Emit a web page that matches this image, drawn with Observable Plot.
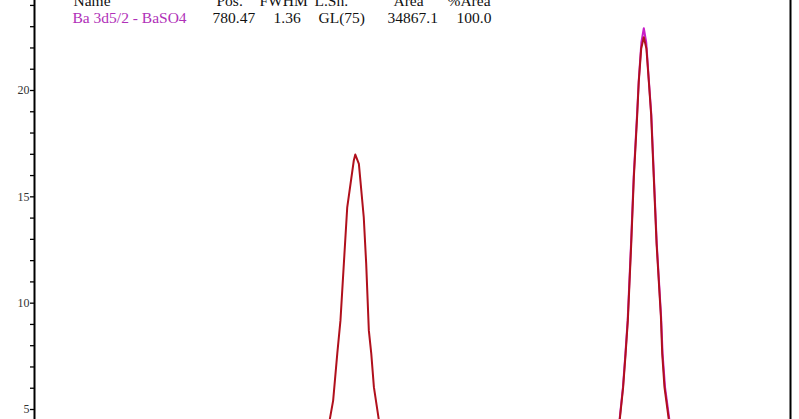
<!DOCTYPE html>
<html>
<head>
<meta charset="utf-8">
<script src="https://cdn.jsdelivr.net/npm/d3@7"></script>
<script src="https://cdn.jsdelivr.net/npm/@observablehq/plot@0.6"></script>
<style>
  html, body { margin: 0; padding: 0; background: #fff; }
  #chart svg { display: block; }
</style>
</head>
<body>
<div id="chart"></div>
<script>
// Binding energy (eV) and counts for the envelope (dark red) curve
const envelopeBE = [812.9, 800, 797.6, 797.23, 797.05, 796.83, 796.66, 796.48, 796.30, 795.95, 795.87, 795.68, 795.42, 795.29, 795.15, 795.02, 794.88, 794.62, 794.3, 790, 782.1,
  781.79, 781.61, 781.48, 781.36, 781.18, 781.04, 780.86, 780.78, 780.65, 780.51, 780.37, 780.24, 780.12, 779.98, 779.83, 779.60, 779.53, 779.41, 779.18, 778.9, 772.7];
const envelopeCPS = [1.8, 2.2, 3.2, 4.67, 5.56, 7.77, 9.33, 12.0, 14.65, 16.85, 17.13, 16.69, 14.18, 11.99, 8.86, 7.77, 6.19, 4.67, 3.2, 2.0, 2.6,
  4.67, 6.19, 7.76, 9.33, 12.93, 16.06, 19.01, 20.53, 22.10, 22.65, 22.10, 20.53, 19.01, 16.06, 12.93, 9.5, 7.76, 6.19, 4.67, 3.0, 1.5];

// Component Ba 3d5/2 - BaSO4 (magenta)
const componentBE = [812.9, 782.2, 781.80, 781.62, 781.49, 781.37, 781.19, 781.05, 780.87, 780.78, 780.64, 780.51, 780.38, 780.24, 780.11, 779.97, 779.82, 779.59, 779.51, 779.38, 779.15, 778.8, 772.7];
const componentCPS = [1.0, 1.5, 4.67, 6.19, 7.76, 9.33, 12.93, 16.06, 19.01, 20.6, 22.4, 23.07, 22.4, 20.6, 19.01, 16.06, 12.93, 9.5, 7.76, 6.19, 4.67, 1.5, 1.0];

// Axis ticks
const yTicks = [5, 6, 7, 8, 9, 10, 11, 12, 13, 14, 15, 16, 17, 18, 19, 20, 21, 22, 23, 24];
const yTickLabels = [5, 10, 15, 20];

// Component table
const tableHeader = ["Name", "Pos.", "FWHM", "L.Sh.", "Area", "%Area"];
const tableRow = ["Ba 3d5/2 - BaSO4", "780.47", "1.36", "GL(75)", "34867.1", "100.0"];

const xDomain = [812.95, 772.7];
const yDomain = [4.671, 24.373];

const envelope = envelopeBE.map((x, i) => ({x, y: envelopeCPS[i]}));
const component = componentBE.map((x, i) => ({x, y: componentCPS[i]}));

// layout (pixel offsets of table columns)
const marginLeft = 34;
const headerX = [73, 216, 259, 314, 393, 447];
const rowX = [72, 212, 273, 318, 387, 456];
const serif = "'Liberation Serif', 'Times New Roman', serif";

const textMarks = [];
tableHeader.forEach((t, i) => {
  textMarks.push(Plot.text([t], {
    text: d => d, frameAnchor: "top-left", textAnchor: "start", lineAnchor: "middle",
    dx: headerX[i] - marginLeft, dy: 1, fill: "#111", fontSize: 15.5, fontFamily: serif
  }));
});
tableRow.forEach((t, i) => {
  textMarks.push(Plot.text([t], {
    text: d => d, frameAnchor: "top-left", textAnchor: "start", lineAnchor: "middle",
    dx: rowX[i] - marginLeft, dy: 18, fill: i === 0 ? "#b030b8" : "#111", fontSize: 15.5, fontFamily: serif
  }));
});

const chart = Plot.plot({
  width: 799,
  height: 419,
  marginLeft: marginLeft,
  marginRight: 9,
  marginTop: 0,
  marginBottom: 0,
  style: {background: "#fff", fontFamily: serif},
  x: {domain: xDomain, axis: null},
  y: {domain: yDomain, axis: null},
  marks: [
    Plot.axisY({
      ticks: yTicks,
      tickSize: 4,
      tickPadding: 1,
      tickFormat: d => yTickLabels.includes(d) ? String(d) : "",
      fontSize: 12,
      fontFamily: serif,
      color: "#333",
      stroke: "#000",
      strokeWidth: 1.3,
      dy: -3,
      label: null
    }),
    Plot.ruleX([xDomain[0]], {stroke: "#000", strokeWidth: 2}),
    Plot.ruleX([xDomain[1]], {stroke: "#000", strokeWidth: 2}),
    Plot.line(component, {x: "x", y: "y", stroke: "#c81ec8", strokeWidth: 2, clip: true}),
    Plot.line(envelope, {x: "x", y: "y", stroke: "#b0101c", strokeWidth: 2, clip: true}),
    ...textMarks
  ]
});
document.getElementById("chart").append(chart);
</script>
</body>
</html>
